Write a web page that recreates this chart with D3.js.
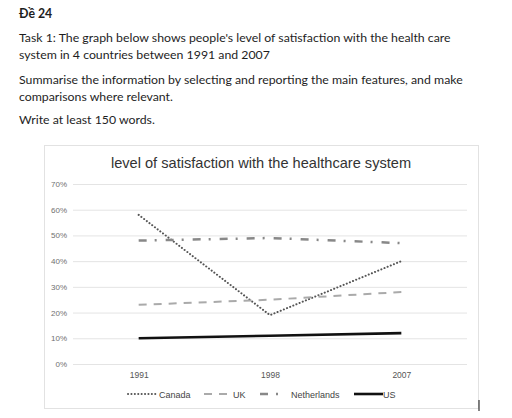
<!DOCTYPE html>
<html>
<head>
<meta charset="utf-8">
<script src="https://d3js.org/d3.v7.min.js"></script>
<style>
  body { margin: 0; background: #fff; }
  svg { display: block; }
</style>
</head>
<body>
<div id="chart"></div>
<script>
// data
const years = ["1991", "1998", "2007"];
const canada = [58, 19, 40];
const uk = [23, 25, 28];
const netherlands = [48, 49, 47];
const us = [10, 11, 12];
const yTicks = [0, 10, 20, 30, 40, 50, 60, 70];

const headerLines = [
  { text: "Đề 24", y: 18, bold: true },
  { text: "Task 1: The graph below shows people's level of satisfaction with the health care", y: 42 },
  { text: "system in 4 countries between 1991 and 2007", y: 59 },
  { text: "Summarise the information by selecting and reporting the main features, and make", y: 84 },
  { text: "comparisons where relevant.", y: 101 },
  { text: "Write at least 150 words.", y: 124 }
];

const series = [
  { name: "Canada", values: canada, color: "#555", width: 2, dash: "0.1,3.3", cap: "round" },
  { name: "UK", values: uk, color: "#aaa", width: 2, dash: "8,7", cap: "butt" },
  { name: "Netherlands", values: netherlands, color: "#888", width: 2.5, dash: "8,8,2,9", cap: "butt" },
  { name: "US", values: us, color: "#111", width: 2.6, dash: null, cap: "butt" }
];

const W = 512, H = 418;
const svg = d3.select("#chart").append("svg")
  .attr("width", W).attr("height", H);

// header task text
svg.selectAll("text.header")
  .data(headerLines)
  .enter().append("text")
  .attr("class", "header")
  .attr("x", 19)
  .attr("y", d => d.y)
  .style("font-family", "Lato, 'Open Sans', sans-serif")
  .style("font-size", "12.3px")
  .style("font-weight", d => d.bold ? "bold" : "normal")
  .style("fill", "#1e1e1e")
  .text(d => d.text);

// chart frame
svg.append("rect")
  .attr("x", 44.5).attr("y", 145.5)
  .attr("width", 434).attr("height", 263)
  .attr("fill", "none")
  .attr("stroke", "#e2e2e2");

svg.append("line")
  .attr("x1", 479).attr("x2", 479)
  .attr("y1", 400).attr("y2", 411)
  .attr("stroke", "#333").attr("stroke-width", 1.2);

// scales
const x = d3.scalePoint().domain(years).range([73, 467]).padding(0.5);
const y = d3.scaleLinear().domain([0, 70]).range([364, 184]);

// y axis with gridlines
const yAxis = svg.append("g")
  .attr("transform", "translate(73,0)")
  .call(d3.axisLeft(y).tickValues(yTicks).tickFormat(d => d + "%").tickSize(-394).tickPadding(6));
yAxis.select(".domain").remove();
yAxis.selectAll(".tick line").attr("stroke", "#e4e4e4");
yAxis.selectAll(".tick text")
  .style("font-family", "'Liberation Sans', Arial, sans-serif")
  .style("font-size", "8px")
  .style("fill", "#707070");

// x axis
const xAxis = svg.append("g")
  .attr("transform", "translate(0,364)")
  .call(d3.axisBottom(x).tickSize(0).tickPadding(8));
xAxis.select(".domain").remove();
xAxis.selectAll(".tick text")
  .style("font-family", "'Liberation Sans', Arial, sans-serif")
  .style("font-size", "8.5px")
  .style("fill", "#555");

// title
svg.append("text")
  .attr("x", 261).attr("y", 168)
  .attr("text-anchor", "middle")
  .style("font-family", "'Liberation Sans', Arial, sans-serif")
  .style("font-size", "14.6px")
  .style("fill", "#333")
  .text("level of satisfaction with the healthcare system");

// lines
const line = d3.line()
  .x((d, i) => x(years[i]))
  .y(d => y(d));

svg.selectAll("path.series")
  .data(series)
  .enter().append("path")
  .attr("class", "series")
  .attr("d", d => line(d.values))
  .attr("fill", "none")
  .attr("stroke", d => d.color)
  .attr("stroke-width", d => d.width)
  .attr("stroke-linecap", d => d.cap)
  .attr("stroke-dasharray", d => d.dash);

// legend
const legendItems = [
  { x1: 128, x2: 157, tx: 159 },
  { x1: 204, x2: 232, tx: 233 },
  { x1: 260, x2: 282, tx: 291 },
  { x1: 354, x2: 383, tx: 383 }
];
const legend = svg.selectAll("g.legend")
  .data(series)
  .enter().append("g")
  .attr("class", "legend");
legend.append("line")
  .attr("x1", (d, i) => legendItems[i].x1)
  .attr("x2", (d, i) => legendItems[i].x2)
  .attr("y1", 394).attr("y2", 394)
  .attr("stroke", d => d.color)
  .attr("stroke-width", d => d.width)
  .attr("stroke-linecap", d => d.cap)
  .attr("stroke-dasharray", d => d.dash);
legend.append("text")
  .attr("x", (d, i) => legendItems[i].tx)
  .attr("y", 397.5)
  .style("font-family", "'Liberation Sans', Arial, sans-serif")
  .style("font-size", "9px")
  .style("fill", "#444")
  .text(d => d.name);
</script>
</body>
</html>
